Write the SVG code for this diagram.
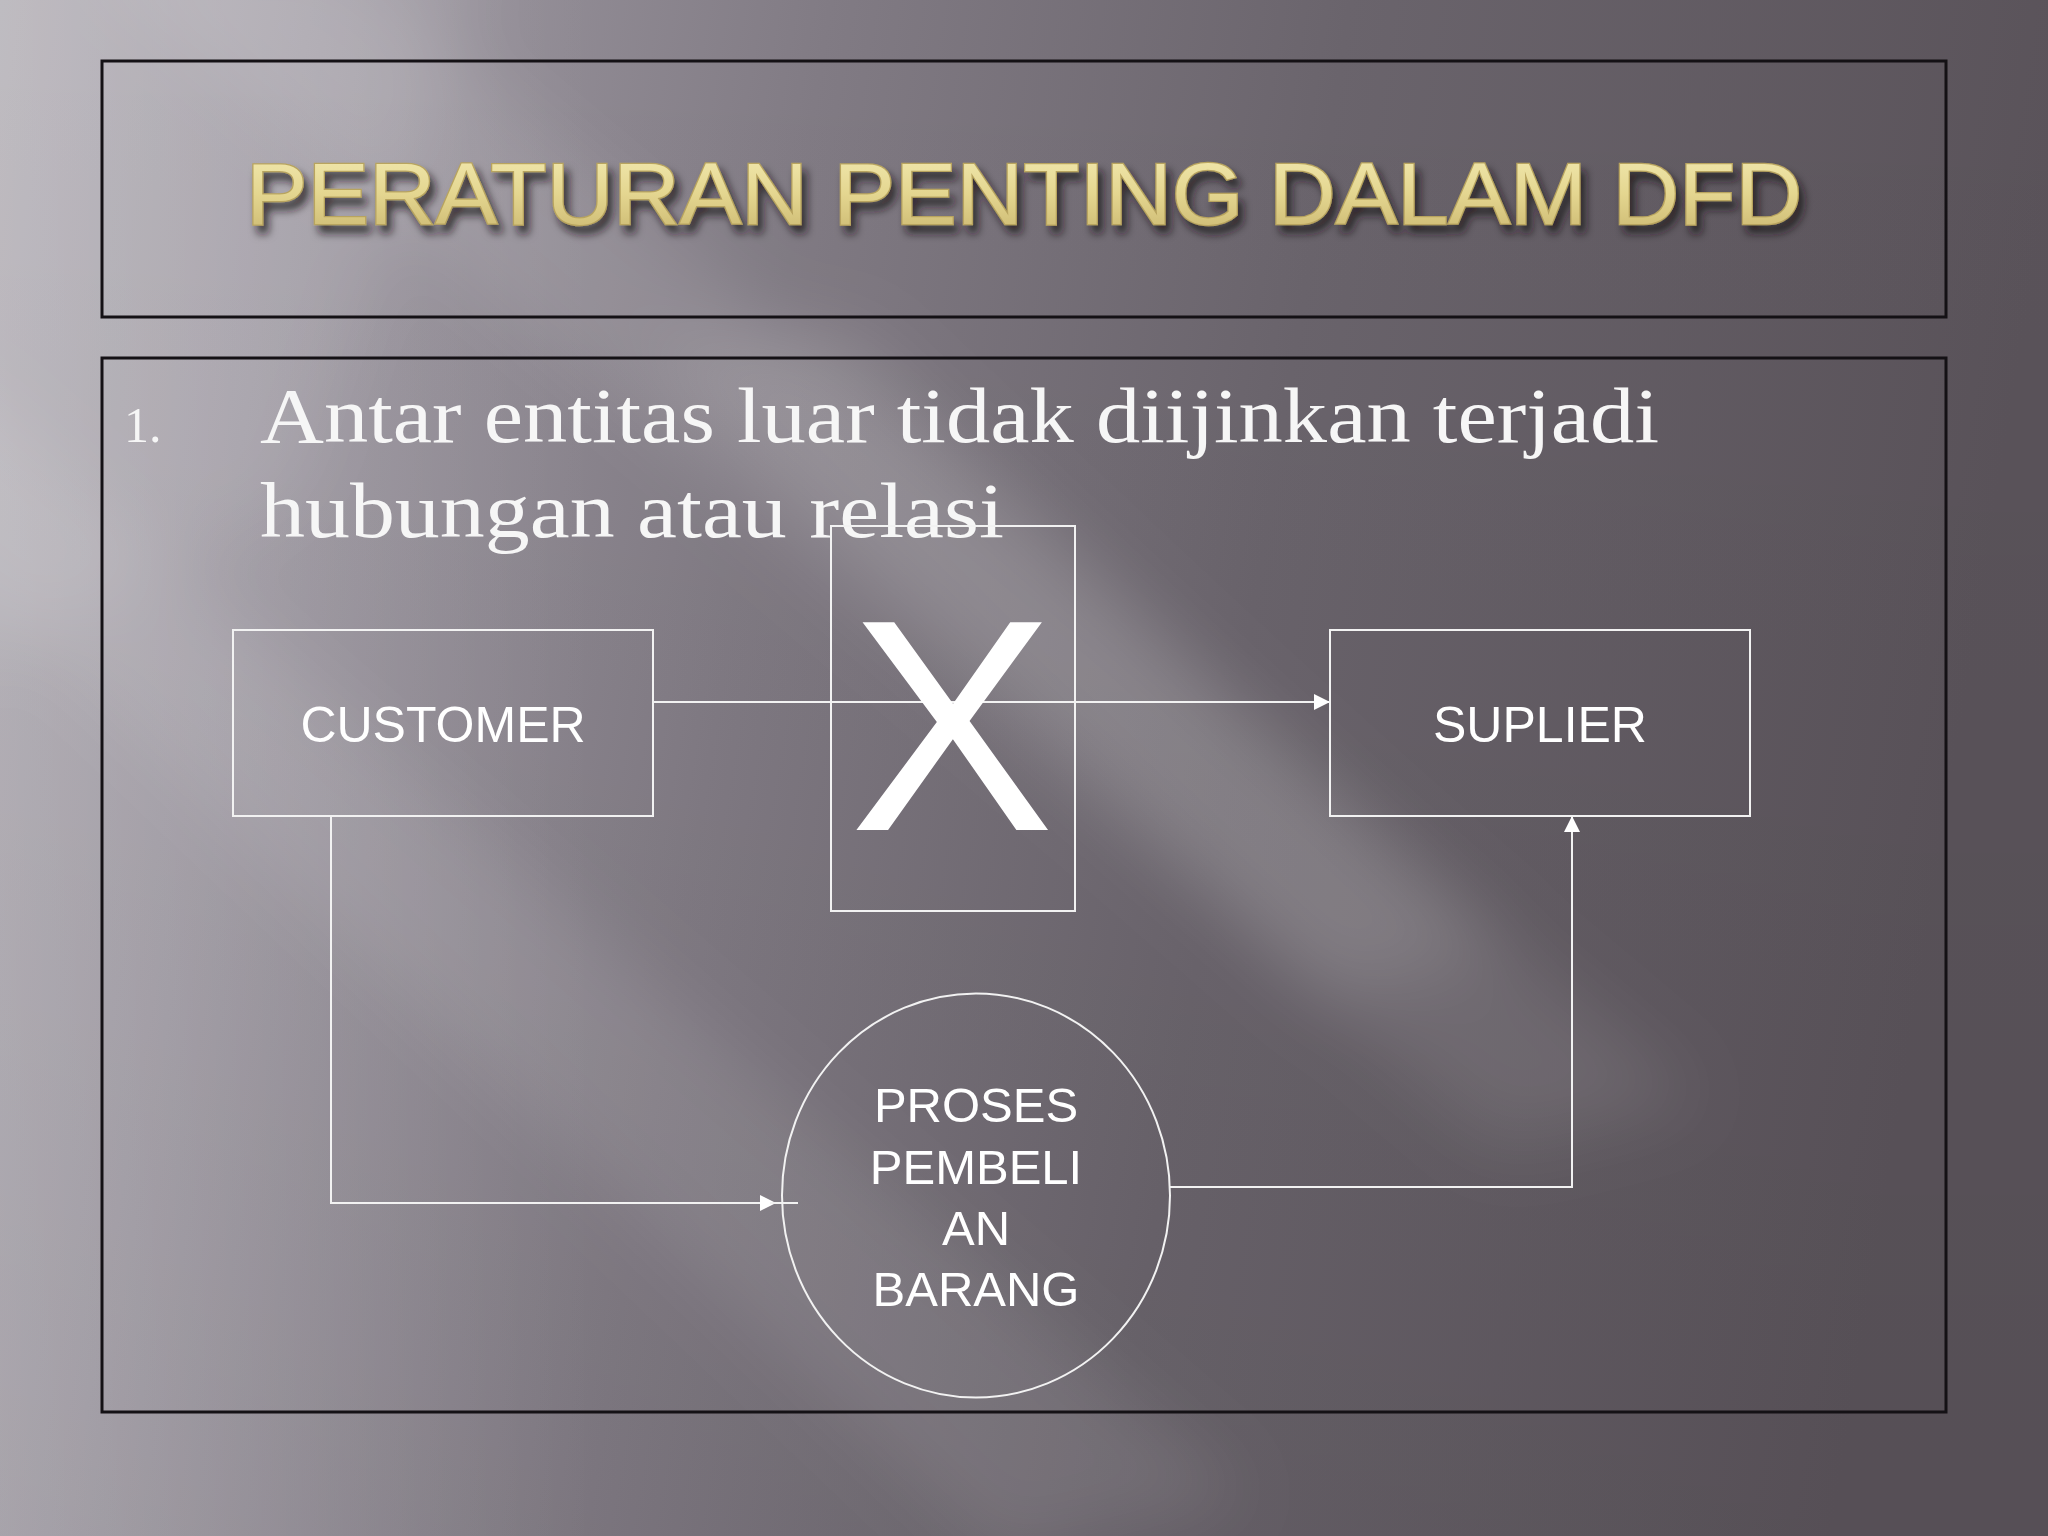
<svg xmlns="http://www.w3.org/2000/svg" width="2048" height="1536" viewBox="0 0 2048 1536">
<defs>
  <linearGradient id="bg" x1="0" y1="0" x2="1" y2="0.12">
    <stop offset="0" stop-color="#aeaab1"/>
    <stop offset="0.15" stop-color="#9e99a2"/>
    <stop offset="0.4" stop-color="#817b84"/>
    <stop offset="0.65" stop-color="#6a646c"/>
    <stop offset="1" stop-color="#5a535a"/>
  </linearGradient>
  <linearGradient id="vshade" x1="0" y1="0" x2="0" y2="1">
    <stop offset="0" stop-color="#000" stop-opacity="0"/>
    <stop offset="1" stop-color="#000" stop-opacity="0.05"/>
  </linearGradient>
  <linearGradient id="leftlight" x1="0" y1="0" x2="1" y2="0">
    <stop offset="0" stop-color="#ffffff" stop-opacity="0.14"/>
    <stop offset="1" stop-color="#ffffff" stop-opacity="0"/>
  </linearGradient>
  <linearGradient id="gold" x1="0" y1="0" x2="0" y2="1">
    <stop offset="0" stop-color="#f4ecb4"/>
    <stop offset="0.5" stop-color="#e4d690"/>
    <stop offset="1" stop-color="#c8b46c"/>
  </linearGradient>
  <filter id="blur" x="-20%" y="-20%" width="140%" height="140%">
    <feGaussianBlur stdDeviation="35"/>
  </filter>
  <filter id="tshadow" x="-5%" y="-30%" width="110%" height="160%">
    <feGaussianBlur in="SourceAlpha" stdDeviation="4"/>
    <feOffset dx="5" dy="8" result="s"/>
    <feFlood flood-color="#1a1418" flood-opacity="0.75"/>
    <feComposite in2="s" operator="in"/>
    <feMerge><feMergeNode/><feMergeNode in="SourceGraphic"/></feMerge>
  </filter>
  <marker id="arrow" viewBox="0 0 16 16" refX="16" refY="8" markerWidth="16" markerHeight="16" markerUnits="userSpaceOnUse" orient="auto">
    <path d="M0,0 L16,8 L0,16 Z" fill="#ffffff"/>
  </marker>
  <style>
    .frame { fill: none; stroke: #141115; stroke-width: 3; }
    .shape { fill: none; stroke: #f2f2f2; stroke-width: 2; }
    .flow { fill: none; stroke: #f2f2f2; stroke-width: 2; }
    .lbl { font-family: "Liberation Sans", Arial, sans-serif; fill: #ffffff; text-anchor: middle; }
    .body { font-family: "Liberation Serif", "Times New Roman", serif; fill: #f6f6f6; }
    .title { font-family: "Liberation Sans", Arial, sans-serif; font-weight: normal; font-size: 88px; fill: url(#gold); stroke: #b8a45e; stroke-width: 2.5; paint-order: stroke; }
  </style>
</defs>

<!-- background -->
<rect x="0" y="0" width="2048" height="1536" fill="url(#bg)"/>
<rect x="0" y="0" width="2048" height="1536" fill="url(#vshade)"/>
<rect x="0" y="0" width="600" height="1536" fill="url(#leftlight)"/>
<g filter="url(#blur)" fill="#ffffff">
  <polygon points="80,-50 330,-50 1700,1100 1500,1150" fill-opacity="0.09"/>
  <polygon points="-200,420 -40,380 1250,1500 1000,1560" fill-opacity="0.09"/>
  <polygon points="650,350 850,330 1500,950 1330,1000" fill-opacity="0.11"/>
  <polygon points="-100,-100 500,-100 300,500 -100,700" fill-opacity="0.08"/>
</g>

<!-- title frame -->
<g id="title">
  <rect class="frame" x="102" y="61" width="1844" height="256"/>
  <text class="title" x="246" y="224" textLength="1556" lengthAdjust="spacingAndGlyphs" filter="url(#tshadow)">PERATURAN PENTING DALAM DFD</text>
</g>

<!-- content frame -->
<g id="content">
  <rect class="frame" x="102" y="358" width="1844" height="1054"/>
  <text class="body" x="124" y="442" font-size="50">1.</text>
  <text class="body" x="260" y="442" font-size="78" textLength="1399" lengthAdjust="spacingAndGlyphs">Antar entitas luar tidak diijinkan terjadi</text>
  <text class="body" x="260" y="537" font-size="78" textLength="744" lengthAdjust="spacingAndGlyphs">hubungan atau relasi</text>
</g>

<!-- connectors -->
<g id="connectors">
  <path class="flow" d="M653,702 H1330" marker-end="url(#arrow)"/>
  <path class="flow" d="M331,816 V1203 H776" marker-end="url(#arrow)"/>
  <path class="flow" d="M770,1203 H798"/>
  <path class="flow" d="M1170,1187 H1572 V816" marker-end="url(#arrow)"/>
</g>

<!-- nodes -->
<g id="customer">
  <rect class="shape" x="233" y="630" width="420" height="186"/>
  <text class="lbl" x="443" y="742" font-size="50">CUSTOMER</text>
</g>
<g id="suplier">
  <rect class="shape" x="1330" y="630" width="420" height="186"/>
  <text class="lbl" x="1540" y="742" font-size="50">SUPLIER</text>
</g>
<g id="cross">
  <rect class="shape" x="831" y="526" width="244" height="385"/>
  <text class="lbl" x="952" y="830" font-size="302" textLength="205" lengthAdjust="spacingAndGlyphs">X</text>
</g>
<g id="proses">
  <ellipse class="shape" cx="976" cy="1195.5" rx="194" ry="202"/>
  <text class="lbl" x="976" y="1122" font-size="49">PROSES</text>
  <text class="lbl" x="976" y="1184" font-size="49">PEMBELI</text>
  <text class="lbl" x="976" y="1245" font-size="49">AN</text>
  <text class="lbl" x="976" y="1306" font-size="49">BARANG</text>
</g>
</svg>
